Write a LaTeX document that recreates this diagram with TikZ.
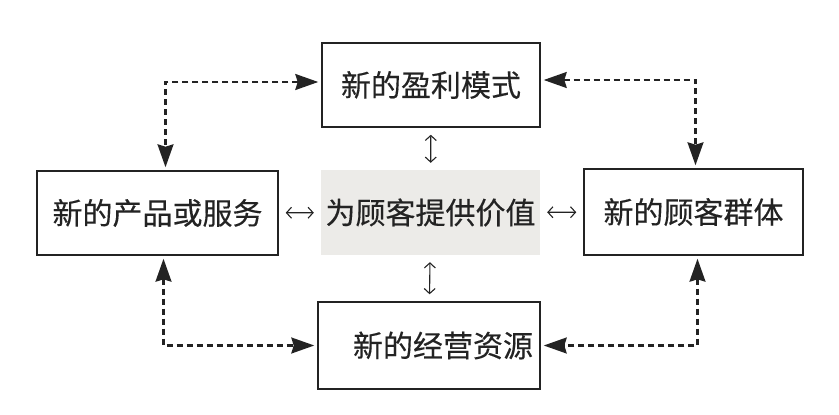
\documentclass[tikz,border=0pt]{standalone}
\usepackage{fontspec}
\newfontfamily\cjk[FakeBold=0.3]{Noto Sans CJK SC}
\usetikzlibrary{arrows.meta}
\definecolor{ink}{HTML}{232323}
\definecolor{paper}{HTML}{ECEBE8}
\tikzset{
  boxnode/.style={draw=ink, line width=1.5pt, inner sep=0pt, text=ink,
    font=\cjk\fontsize{30}{36}\selectfont},
  valnode/.style={fill=paper, inner sep=0pt, text=ink,
    font=\cjk\fontsize{30}{36}\selectfont},
  dashlink/.style={draw=ink, line width=2.2pt, dash pattern=on 6pt off 4pt,
    {Stealth[length=23pt,width=16pt,inset=2.5pt]}-{Stealth[length=23pt,width=16pt,inset=2.5pt]},
    shorten <=3pt, shorten >=3pt},
  thinlink/.style={draw=ink, line width=1.1pt,
    {Straight Barb[length=5pt,width=11pt]}-{Straight Barb[length=5pt,width=11pt]},
    shorten <=7pt, shorten >=7pt}
}
\begin{document}
\begin{tikzpicture}[x=1pt,y=-1pt]
\useasboundingbox (0,0) rectangle (839,415);
\node[boxnode, minimum width=218pt, minimum height=84pt] (top) at (431,85) {新的盈利模式};
\node[boxnode, minimum width=241pt, minimum height=84pt] (left) at (157.5,213) {新的产品或服务};
\node[valnode, minimum width=219pt, minimum height=85pt] (mid) at (430.5,212.5) {为顾客提供价值};
\node[boxnode, minimum width=219pt, minimum height=86pt] (right) at (693.5,212) {新的顾客群体};
\node[boxnode, minimum width=222pt, minimum height=87pt, text width=208pt, align=right] (bot) at (429,345.5) {新的经营资源};
% thin double arrows
\draw[thinlink] (left) -- (mid);
\draw[thinlink] (mid) -- (right);
\draw[thinlink] (top) -- (mid);
\draw[thinlink] (mid) -- (bot);
% dashed connectors
\draw[dashlink] ([yshift=3pt]top.west) -| ([xshift=8pt]left.north);
\draw[dashlink] ([yshift=5pt]top.east) -| ([xshift=2pt]right.north);
\draw[dashlink] ([xshift=6pt]left.south) |- (bot.west);
\draw[dashlink] ([xshift=4pt]right.south) |- (bot.east);
\end{tikzpicture}
\end{document}
